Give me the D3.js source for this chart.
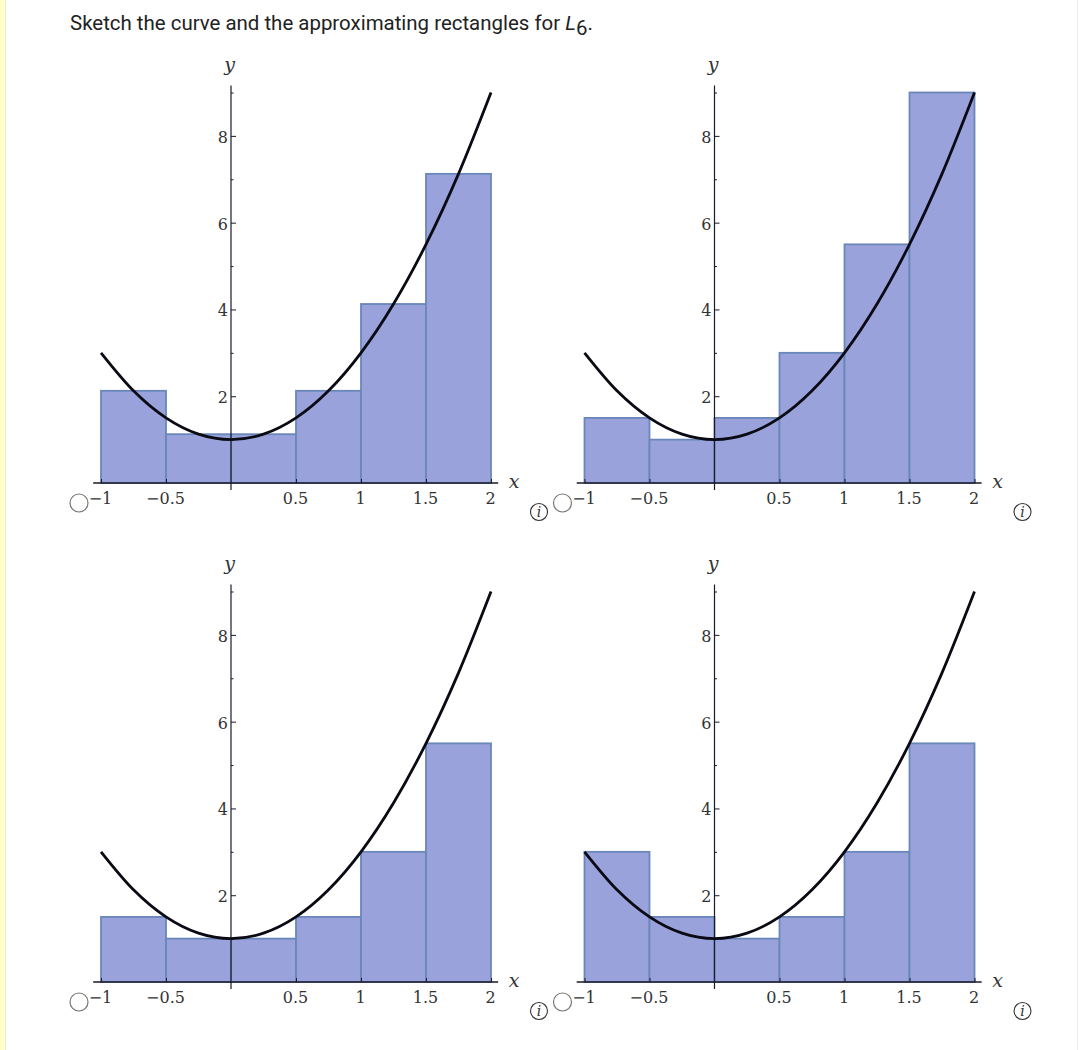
<!DOCTYPE html>
<html>
<head>
<meta charset="utf-8">
<style>
  html, body { margin: 0; padding: 0; background: #fff; }
  svg { display: block; }
  .title { font-family: Roboto, sans-serif; font-size: 20.45px; fill: #222; }
  .tick text { font-family: "DejaVu Serif", serif; font-size: 16px; fill: #333; }
  .axis path, .axis line { stroke: #1a1a2a; }
  .axlabel { font-family: "DejaVu Serif", serif; font-style: italic; font-size: 19px; fill: #333; }
  .bar { fill: #99a2db; stroke: #6a87b9; stroke-width: 1.8; }
  .curve { fill: none; stroke: #0a0a14; stroke-width: 2.8; }
  .radio { fill: #fff; stroke: #777; stroke-width: 1.2; }
  .info { fill: #fff; stroke: #333; stroke-width: 1.1; }
  .infotext { font-family: "DejaVu Serif", serif; font-style: italic; font-size: 14px; fill: #333; text-anchor: middle; }
</style>
</head>
<body>
<script src="https://d3js.org/d3.v7.min.js"></script>
<script>
var barLefts = [-1, -0.5, 0, 0.5, 1, 1.5];
var barsA = [2.125, 1.125, 1.125, 2.125, 4.125, 7.125];
var barsB = [1.5, 1, 1.5, 3, 5.5, 9];
var barsC = [1.5, 1, 1, 1.5, 3, 5.5];
var barsD = [3, 1.5, 1, 1.5, 3, 5.5];

// curve at quarter steps
var curveX = [-1, -0.75, -0.5, -0.25, 0, 0.25, 0.5, 0.75, 1, 1.25, 1.5, 1.75, 2];
var curveY = [3, 2.125, 1.5, 1.125, 1, 1.125, 1.5, 2.125, 3, 4.125, 5.5, 7.125, 9];

var xTicks = [-1, -0.5, 0.5, 1, 1.5, 2];
var yTicks = [2, 4, 6, 8];
var yMinorTicks = [1, 3, 5, 7, 9];
var barWidth = 0.5;

var svg = d3.select("body").append("svg")
    .attr("width", 1080)
    .attr("height", 1050);

svg.append("rect").attr("width", 1080).attr("height", 1050).attr("fill", "#fff");
svg.append("rect").attr("width", 5).attr("height", 1050).attr("fill", "#ffffcc");
svg.append("rect").attr("x", 5).attr("width", 1).attr("height", 1050).attr("fill", "#e8e8e0");
svg.append("rect").attr("x", 1077).attr("width", 1).attr("height", 1050).attr("fill", "#eeeeee");

var title = svg.append("text").attr("class", "title").attr("x", 70).attr("y", 30);
title.append("tspan").text("Sketch the curve and the approximating rectangles for ");
title.append("tspan").text("L").style("font-style", "italic");
title.append("tspan").text("6").attr("dy", 5);
title.append("tspan").text(".").attr("dy", -5);

var x = d3.scaleLinear().domain([-1, 2]).range([0, 390]);
var y = d3.scaleLinear().domain([0, 9]).range([0, -390.5]);

var line = d3.line()
    .x(function (d, i) { return x(curveX[i]); })
    .y(function (d, i) { return y(curveY[i]); })
    .curve(d3.curveCatmullRom.alpha(0));

function minusLabel(d) {
  return String(d).replace("-", "\u2212");
}

function drawPanel(values, left, base) {
  var g = svg.append("g").attr("transform", "translate(" + left + "," + base + ")");

  g.selectAll(".bar")
      .data(values)
    .enter().append("rect")
      .attr("class", "bar")
      .attr("x", function (d, i) { return x(barLefts[i]); })
      .attr("y", function (d) { return y(d); })
      .attr("width", x(barWidth) - x(0))
      .attr("height", function (d) { return y(0) - y(d); });

  // x axis, ticks pointing up into the plot
  var xAxis = g.append("g").attr("class", "axis")
      .call(d3.axisBottom(x).tickValues(xTicks).tickFormat(minusLabel)
        .tickSizeInner(-4).tickSizeOuter(0).tickPadding(10));
  xAxis.select(".domain").remove();
  xAxis.selectAll(".tick text").attr("dx", -1);
  xAxis.append("line")
      .attr("x1", x(-1.06)).attr("x2", x(2.055))
      .attr("stroke-width", 1.6);

  // y axis, labels left and ticks right
  var yAxis = g.append("g").attr("class", "axis")
      .attr("transform", "translate(" + x(0) + ",0)")
      .call(d3.axisLeft(y).tickValues(yTicks)
        .tickSizeInner(-5).tickSizeOuter(0).tickPadding(3));
  yAxis.select(".domain").remove();
  yAxis.selectAll(".tick text").attr("dy", "0.4em");
  yAxis.append("line")
      .attr("y1", y(-0.16)).attr("y2", y(9.16))
      .attr("stroke-width", 1.2);

  var yMinor = g.append("g").attr("class", "axis")
      .attr("transform", "translate(" + x(0) + ",0)")
      .call(d3.axisLeft(y).tickValues(yMinorTicks).tickFormat("")
        .tickSizeInner(-2.5).tickSizeOuter(0));
  yMinor.select(".domain").remove();

  g.append("path")
      .datum(curveY)
      .attr("class", "curve")
      .attr("d", line);

  g.append("text").attr("class", "axlabel").attr("x", x(0) - 1.5).attr("y", -412)
      .attr("text-anchor", "middle").text("y");
  g.append("text").attr("class", "axlabel").attr("x", x(2) + 23).attr("y", 5)
      .attr("text-anchor", "middle").text("x");

  g.append("circle").attr("class", "radio").attr("cx", -22).attr("cy", 20).attr("r", 9);
  g.append("circle").attr("class", "info").attr("cx", x(2) + 48).attr("cy", 29).attr("r", 8.5);
  g.append("text").attr("class", "infotext").attr("x", x(2) + 48).attr("y", 34).text("i");
}

drawPanel(barsA, 101, 483);
drawPanel(barsB, 584.5, 483);
drawPanel(barsC, 101, 982);
drawPanel(barsD, 584.5, 982);
</script>
</body>
</html>
